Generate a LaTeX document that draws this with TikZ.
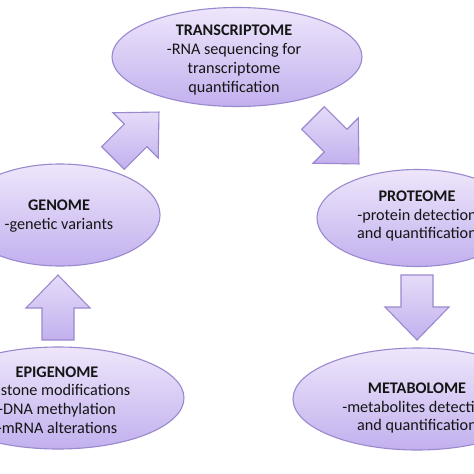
\documentclass[tikz,border=0pt]{standalone}
\usepackage{fontspec}
\setmainfont{Carlito}
\usetikzlibrary{shapes.geometric}
\definecolor{lavtop}{HTML}{EEE6FB}
\definecolor{lavbot}{HTML}{C2B0EE}
\definecolor{lavline}{HTML}{9A89CE}
\definecolor{txt}{HTML}{151515}
\tikzset{
  omics/.style={ellipse, draw=lavline, line width=1.1pt, top color=lavtop, bottom color=lavbot, inner sep=0pt},
  lbl/.style={text=txt, align=center, font=\fontsize{16.2}{18.7}\selectfont, inner sep=0pt},
  blockarrow/.style={draw=lavline, line width=1.1pt, top color=lavtop!80!lavbot, bottom color=lavbot, line join=miter}
}
\newcommand{\blockarr}[3]{%
  \begin{scope}[shift={#1}, rotate=#2]
    \path[blockarrow] (0,-16) -- (32,-16) -- (32,-32) -- (65,0) -- (32,32) -- (32,16) -- (0,16) -- cycle;
    \coordinate (#3) at (32,0);
  \end{scope}}
\begin{document}
\begin{tikzpicture}[x=1pt,y=-1pt]
\useasboundingbox (0,0) rectangle (474,474);
\clip (0,0) rectangle (474,474);
\fill[white] (0,0) rectangle (474,474);
% ellipses
\node[omics, minimum width=250, minimum height=99] (tr) at (237,57) {};
\node[omics, minimum width=200, minimum height=102] (ge) at (60,215) {};
\node[omics, minimum width=200, minimum height=97] (pr) at (417,218) {};
\node[omics, minimum width=252, minimum height=102] (ep) at (58,398) {};
\node[omics, minimum width=248, minimum height=102] (me) at (417,399) {};
% block arrows
\blockarr{(58,340)}{90}{a1}
\blockarr{(113,158)}{45}{a2}
\blockarr{(313,118)}{-45}{a3}
\blockarr{(417,275)}{-90}{a4}
% labels
\node[lbl] (trl) at (234,60) {\textbf{TRANSCRIPTOME}\\-RNA sequencing for\\transcriptome\\quantification};
\node[lbl] (gel) at (59,216) {\textbf{GENOME}\\-genetic variants};
\node[lbl] (prl) at (417,216) {\textbf{PROTEOME}\\-protein detection\\and quantification};
\node[lbl] (epl) at (57,400) {\textbf{EPIGENOME}\\-histone modifications\\-DNA methylation\\-mRNA alterations};
\node[lbl] (mel) at (417,408) {\textbf{METABOLOME}\\-metabolites detection\\and quantification};
\end{tikzpicture}
\end{document}
